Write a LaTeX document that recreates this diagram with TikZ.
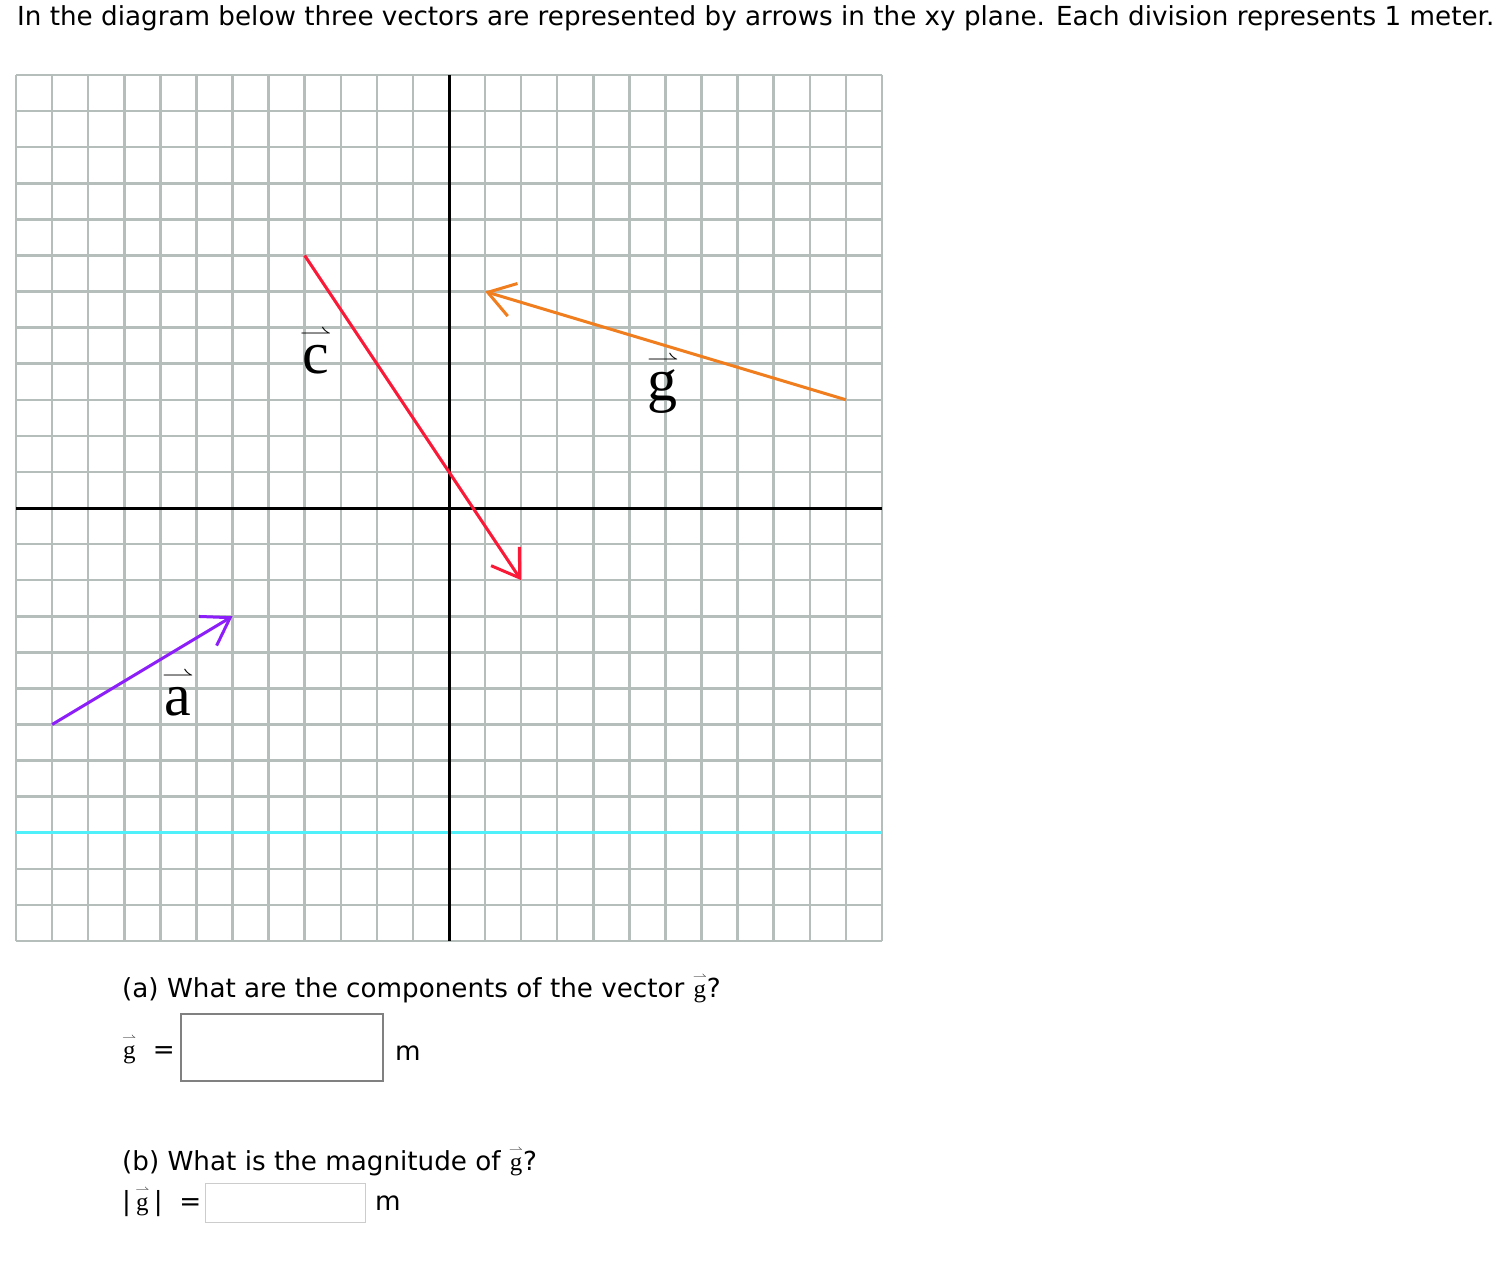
\documentclass[tikz,border=0pt]{standalone}
\usepackage{fix-cm}
\usepackage{amsmath}
\usepackage{graphicx}
\usepackage{fontspec}
\setmainfont{DejaVu Sans}
\newfontfamily\lblfont{Liberation Serif}
\usepackage{tikz}
\usetikzlibrary {arrows.meta,
                 positioning}
\definecolor{gridgray}{RGB}{182,190,188}
\definecolor{vecred}{RGB}{250,25,55}
\definecolor{vecorange}{RGB}{240,125,30}
\definecolor{vecpurple}{RGB}{140,30,250}
\definecolor{linecyan}{RGB}{80,240,250}
\newcommand{\vecsym}[1]{$\overset{\scalebox{0.55}[0.4]{$\rightharpoonup$}}%
    {\hbox{\lblfont #1}}$}
\tikzset{
        gridline/.style={draw=gridgray, line width=2.5pt},
        axisline/.style={black, line width=3pt},
        vecarrow/.style={-{Straight Barb[length=26pt, width=34pt, line width=3pt]},
                         line width=3pt},
        veclabel/.style={font=\fontsize{60}{60}\selectfont, anchor=base,
                         inner sep=0pt},
        qtext/.style={font=\fontsize{26.2}{30}\selectfont, anchor=base west,
                      inner sep=0pt},
        answerbox/.style={draw=gray, line width=1.5pt, inner sep=0pt},
 }

\begin{document}
\begin{tikzpicture}[x=1pt, y=1pt]
    \useasboundingbox (0,0) rectangle (1502,-1270);
    \node[qtext] (title) at (17,-25) {In the diagram below three vectors are
    represented by arrows in the xy plane. Each division represents 1 meter.};

    % the grid, one division = 1 m
    \begin{scope}[shift={(449,-508)}, x=36.08pt, y=36.08pt]
        \foreach \i in {-12,...,12} {
            \draw[gridline] (\i,-12) -- (\i,12);
            \draw[gridline] (-12,\i) -- (12,\i);
        }
        \draw[linecyan, line width=3pt] (-12,-9) -- (12,-9);
        \draw[axisline] (-12,0) -- (12,0);
        \draw[axisline] (0,-12) -- (0,12);

        \coordinate (a0) at (-11,-6);
        \coordinate (a1) at (-6,-3);
        \coordinate (c0) at (-4,7);
        \coordinate (c1) at (2,-2);
        \coordinate (g0) at (11,3);
        \coordinate (g1) at (1,6);

        \draw[vecarrow, vecpurple] (a0) -- (a1);
        \draw[vecarrow, vecred] (c0) -- (c1);
        \draw[vecarrow, vecorange] (g0) -- (g1);

        \node[veclabel] (alabel) at (-7.51,-5.74) {\vecsym{a}};
        \node[veclabel] (clabel) at (-3.69,3.74) {\vecsym{c}};
        \node[veclabel] (glabel) at (5.93,2.97) {\vecsym{g}};
    \end{scope}

    % questions
    \node[qtext] (qa) at (122,-997) {(a) What are the components of the vector
    \vecsym{\fontsize{25}{25}\selectfont g}?};
    \node[qtext] (ga) at (122,-1058) {\vecsym{\fontsize{25}{25}\selectfont g}\ \ =};
    \node[answerbox, minimum width=202pt, minimum height=67pt] (boxa)
        at (282,-1047.5) {};
    \node[qtext] (ma) at (395,-1060) {m};

    \node[qtext] (qb) at (122,-1170) {(b) What is the magnitude of
    \vecsym{\fontsize{25}{25}\selectfont g}?};
    \node[qtext] (gb) at (122,-1210) {|\,\vecsym{\fontsize{25}{25}\selectfont g}\,|\ \ =};
    \node[answerbox, draw=gray!40, line width=1pt, minimum width=160pt,
          minimum height=39pt] (boxb) at (285,-1202.5) {};
    \node[qtext] (mb) at (375,-1210) {m};
\end{tikzpicture}
\end{document}
